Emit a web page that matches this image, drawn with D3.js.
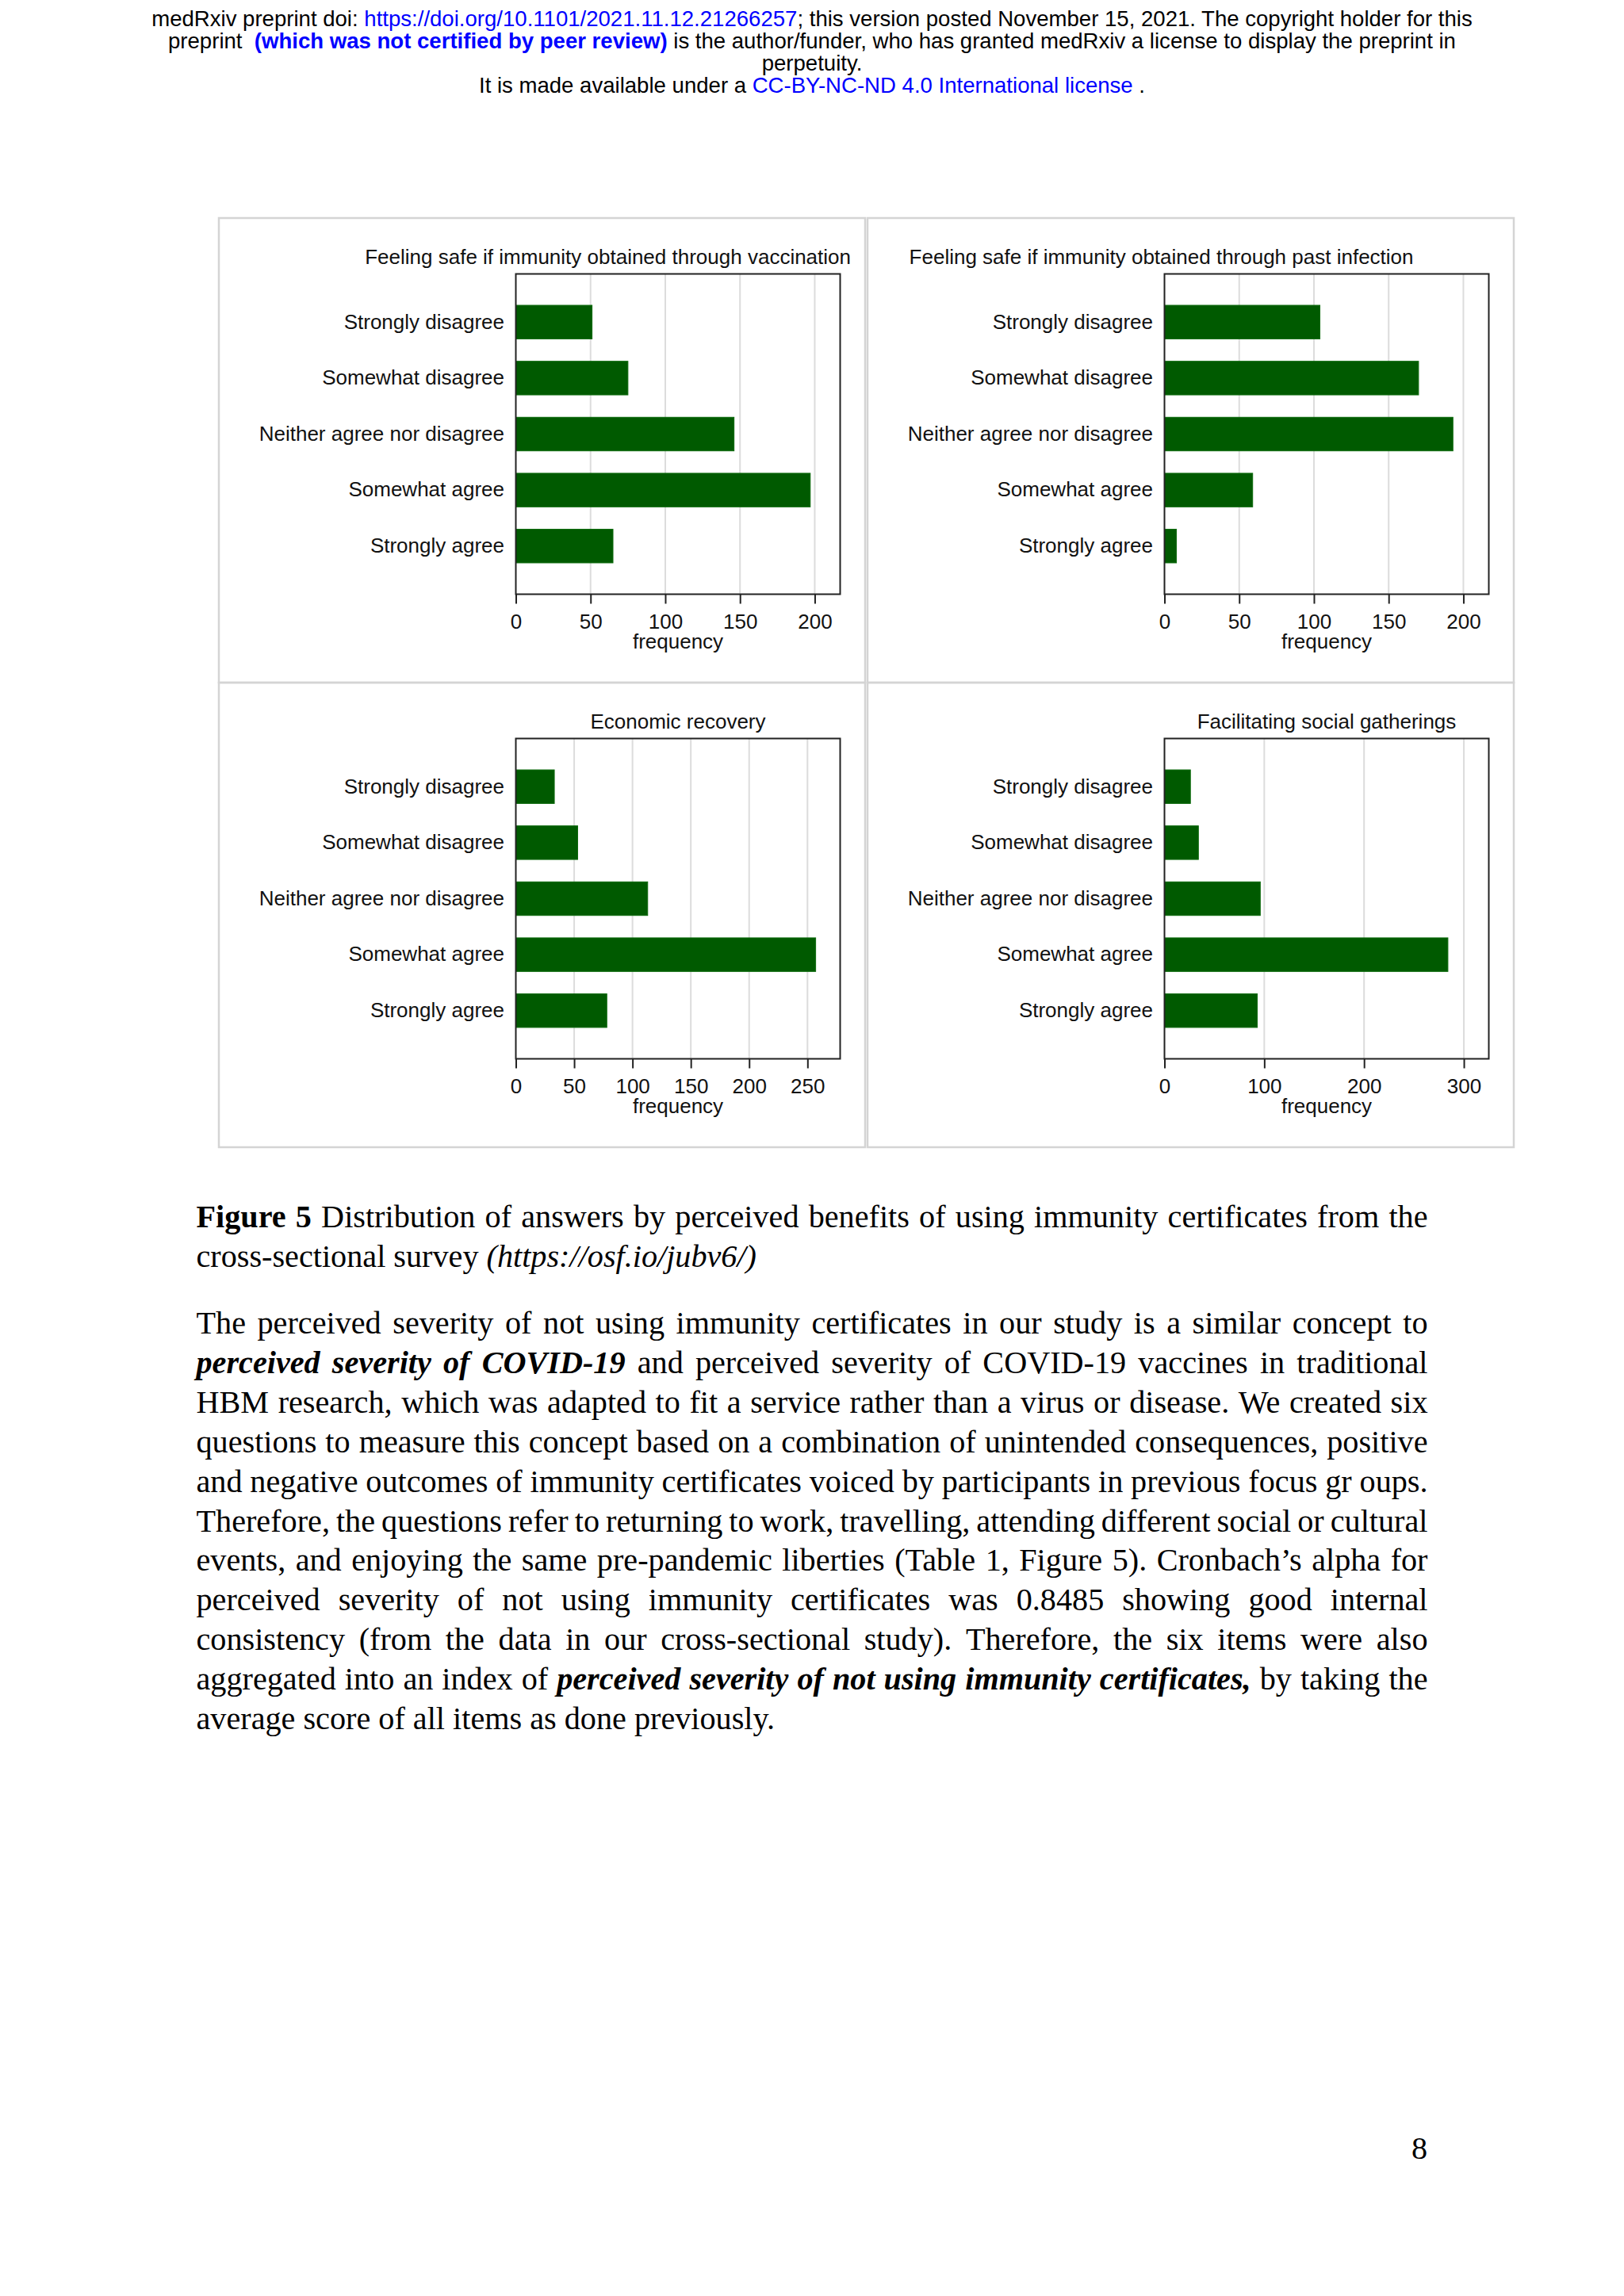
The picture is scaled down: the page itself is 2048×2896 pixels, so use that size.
<!DOCTYPE html>
<html><head><meta charset="utf-8">
<script src="https://cdn.jsdelivr.net/npm/d3@7"></script>
<style>html,body{margin:0;padding:0;background:#fff}svg{display:block}</style>
</head><body>
<script>
// ---------------- data ----------------
const categories = ["Strongly disagree","Somewhat disagree","Neither agree nor disagree","Somewhat agree","Strongly agree"];
const panelTitles = ["Feeling safe if immunity obtained through vaccination",
                     "Feeling safe if immunity obtained through past infection",
                     "Economic recovery",
                     "Facilitating social gatherings"];
const vaccinationValues     = [51, 75, 146, 197, 65];
const pastInfectionValues   = [104, 170, 193, 59, 8];
const economicRecoveryValues= [33, 53, 113, 257, 78];
const socialGatheringsValues= [26, 34, 96, 284, 93];
const xDomainMax = [217, 217, 278, 325];
const tickValues = [[0,50,100,150,200],[0,50,100,150,200],[0,50,100,150,200,250],[0,100,200,300]];
const xAxisLabel = "frequency";

const headerLines = [
  [["medRxiv preprint doi: ","k"],["https://doi.org/10.1101/2021.11.12.21266257","l"],["; this version posted November 15, 2021. The copyright holder for this","k"]],
  [["preprint  ","k"],["(which was not certified by peer review)","lb"],[" is the author/funder, who has granted medRxiv a license to display the preprint in","k"]],
  [["perpetuity.","k"]],
  [["It is made available under a ","k"],["CC-BY-NC-ND 4.0 International license","l"],[" .","k"]]
];
const captionLines = [
  "#Figure 5# Distribution of answers by perceived benefits of using immunity certificates from the",
  "cross-sectional survey *(https://osf.io/jubv6/)*"
];
const bodyLines = [
  "The perceived severity of not using immunity certificates in our study is a similar concept to",
  "*#perceived severity of COVID-19#* and perceived severity of COVID-19 vaccines in traditional",
  "HBM research*,* which was adapted to fit a service rather than a virus or disease. We created six",
  "questions to measure this concept based on a combination of unintended consequences, positive",
  "and negative outcomes of immunity certificates voiced by participants in previous focus gr oups.",
  "Therefore, the questions refer to returning to work, travelling, attending different social or cultural",
  "events, and enjoying the same pre-pandemic liberties (Table 1, Figure 5). Cronbach\u2019s alpha for",
  "perceived severity of not using immunity certificates was 0.8485 showing good internal",
  "consistency (from the data in our cross-sectional study). Therefore, the six items were also",
  "aggregated into an index of *#perceived severity of not using immunity certificates,#* by taking the",
  "average score of all items as done previously."
];
const pageNumber = "8";

// ---------------- layout ----------------
const W = 2048, H = 2896;
const sans = "'Liberation Sans', Arial, Helvetica, sans-serif";
const serif = "'Liberation Serif', 'Times New Roman', Times, serif";
const barColor = "#005a00";
const panelOrigins = [[276,275],[1094,275],[276,861],[1094,861]];
const panelW = 815, panelH = 586;
const plotM = {left: 374.5, top: 70.5}, plotW = 409, plotH = 404;
const titleMode = [["end", 797], ["start", 52.6], ["middle", null], ["middle", null]];
const series = [vaccinationValues, pastInfectionValues, economicRecoveryValues, socialGatheringsValues];

const svg = d3.select("body").append("svg").attr("width", W).attr("height", H)
  .attr("viewBox", `0 0 ${W} ${H}`);
svg.append("rect").attr("width", W).attr("height", H).attr("fill", "#fff");

// ---------------- header ----------------
const colorOf = c => c[0] === "l" ? "#0000ff" : "#000";
const hdrBase = [33, 61, 89, 117];
const hdrG = svg.append("g").attr("font-family", sans).attr("font-size", 26);
const hdrNodes = headerLines.map((line, i) => {
  const t = hdrG.append("text").attr("x", W/2).attr("y", hdrBase[i]).attr("text-anchor", "middle")
    .style("white-space", "pre");
  line.forEach(([s, c]) => t.append("tspan").text(s).attr("fill", colorOf(c))
    .attr("font-weight", c === "lb" ? "bold" : null));
  return t;
});
const w0 = hdrNodes[0].node().getComputedTextLength();
hdrG.attr("font-size", 26 * 1666 / w0);

// ---------------- panels ----------------
panelOrigins.forEach(([px, py], i) => {
  const g = svg.append("g").attr("transform", `translate(${px},${py})`);
  g.append("rect").attr("x", 0).attr("y", 0).attr("width", panelW).attr("height", panelH)
    .attr("fill", "none").attr("stroke", "#d4d4d4").attr("stroke-width", 2.5);

  const p = g.append("g").attr("transform", `translate(${plotM.left},${plotM.top})`);
  const x = d3.scaleLinear().domain([0, xDomainMax[i]]).range([0, plotW]);
  const y = d3.scaleBand().domain(categories).range([0, plotH]).paddingInner(0.4).paddingOuter(0.56);

  p.selectAll("line.grid").data(tickValues[i].filter(v => v > 0)).join("line")
    .attr("class", "grid").attr("x1", d => x(d)).attr("x2", d => x(d))
    .attr("y1", 0).attr("y2", plotH).attr("stroke", "#dcdcdc").attr("stroke-width", 2);

  p.selectAll("rect.bar").data(series[i]).join("rect").attr("class", "bar")
    .attr("x", 0).attr("y", (d, j) => y(categories[j]))
    .attr("width", d => x(d)).attr("height", y.bandwidth())
    .attr("fill", barColor).attr("stroke", "#0b6a0b").attr("stroke-width", 1);

  const xa = p.append("g").attr("transform", `translate(0,${plotH})`)
    .call(d3.axisBottom(x).tickValues(tickValues[i]).tickSize(12).tickFormat(d3.format("d")));
  xa.select(".domain").remove();
  xa.selectAll(".tick line").attr("stroke", "#222").attr("stroke-width", 2);
  xa.selectAll(".tick text").attr("dy", null).attr("y", 43)
    .attr("font-family", sans).attr("font-size", 26).attr("fill", "#111");
  p.append("text").attr("x", plotW/2).attr("y", plotH + 68).attr("text-anchor", "middle")
    .attr("font-family", sans).attr("font-size", 26).attr("fill", "#111").text(xAxisLabel);

  const ya = p.append("g").call(d3.axisLeft(y).tickSize(0).tickPadding(14.5));
  ya.select(".domain").remove();
  ya.selectAll(".tick text").attr("font-family", sans).attr("font-size", 26).attr("fill", "#111");

  p.append("rect").attr("x", 0).attr("y", 0).attr("width", plotW).attr("height", plotH)
    .attr("fill", "none").attr("stroke", "#222").attr("stroke-width", 2);

  const [anchor, tx] = titleMode[i];
  g.append("text").attr("x", anchor === "middle" ? plotM.left + plotW/2 : tx)
    .attr("y", plotM.top - 12.3).attr("text-anchor", anchor)
    .attr("font-family", sans).attr("font-size", 26).attr("fill", "#111").text(panelTitles[i]);
});

// ---------------- body text ----------------
const textX = 247.5, textW = 1553, fs = 40.2;
const bodyG = svg.append("g").attr("font-family", serif).attr("font-size", fs).attr("fill", "#000");
function parseLine(str){
  let italic = false, bold = false; const words = []; let cur = []; let seg = null;
  const push = () => { if (seg && seg.t) cur.push(seg); seg = null; };
  for (const ch of str){
    if (ch === "*"){ push(); italic = !italic; continue; }
    if (ch === "#"){ push(); bold = !bold; continue; }
    if (ch === " "){ push(); if (cur.length) words.push(cur); cur = []; continue; }
    if (!seg) seg = {t: "", i: italic, b: bold};
    seg.t += ch;
  }
  push(); if (cur.length) words.push(cur);
  return words;
}
function drawLine(str, y, justify){
  const words = parseLine(str);
  const lg = bodyG.append("g");
  const nodes = words.map(w => {
    const t = lg.append("text").attr("y", y);
    w.forEach(s => t.append("tspan").text(s.t)
      .attr("font-style", s.i ? "italic" : null).attr("font-weight", s.b ? "bold" : null));
    return t;
  });
  const widths = nodes.map(n => n.node().getComputedTextLength());
  const total = d3.sum(widths);
  let gap = justify ? (textW - total) / (words.length - 1) : fs * 0.25;
  let scale = 1;
  if (justify && gap < 5){ gap = 5; scale = textW / (total + gap * (words.length - 1)); }
  let xx = 0;
  nodes.forEach((n, k) => { n.attr("x", xx); xx += widths[k] + gap; });
  lg.attr("transform", `translate(${textX},0) scale(${scale},1)`);
}
captionLines.forEach((s, k) => drawLine(s, 1548 + 50 * k, k < captionLines.length - 1));
bodyLines.forEach((s, k) => drawLine(s, 1682 + 49.9 * k, k < bodyLines.length - 1));

svg.append("text").attr("x", 1800).attr("y", 2723).attr("text-anchor", "end")
  .attr("font-family", serif).attr("font-size", fs).text(pageNumber);
</script>
</body></html>
